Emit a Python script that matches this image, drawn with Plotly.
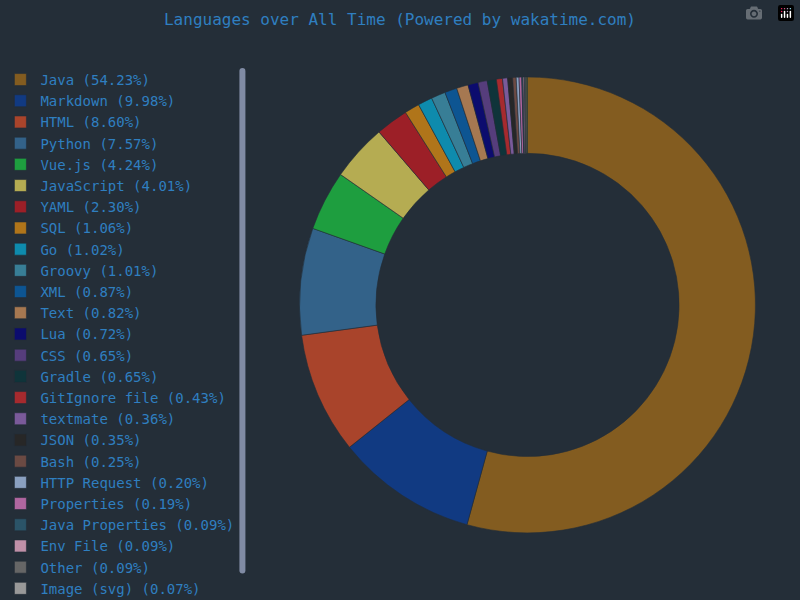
import plotly.graph_objects as go

languages = ["Java","Markdown","HTML","Python","Vue.js","JavaScript","YAML","SQL","Go","Groovy","XML","Text","Lua","CSS","Gradle","GitIgnore file","textmate","JSON","Bash","HTTP Request","Properties","Java Properties","Env File","Other","Image (svg)","Shell Script"]
percents = [54.23,9.98,8.60,7.57,4.24,4.01,2.30,1.06,1.02,1.01,0.87,0.82,0.72,0.65,0.65,0.43,0.36,0.35,0.25,0.20,0.19,0.09,0.09,0.09,0.07,0.06]
colors = ["#835c20","#113a82","#a9442b","#336289","#1e9e3f","#b5ac52","#9c1f27","#b0751a","#0e8bad","#387e96","#0d5592","#a67851","#0c0c6e","#563d7c","#0f343a","#a62a2e","#7a5a9a","#272727","#6b4a43","#8aa0c0","#b066a0","#2b5468","#c090a8","#666666","#999999","#9a9a2a"]

labels = [f"{l} ({p:.2f}%)" for l, p in zip(languages, percents)]

fig = go.Figure(go.Pie(
    labels=labels, values=percents, sort=False, direction="clockwise", rotation=0,
    hole=0.665, textinfo="none", marker=dict(colors=colors, line=dict(color="#242e38", width=0.6)),
    domain=dict(x=[0.3475, 0.96], y=[0.045, 0.862]),
))
fig.update_layout(
    width=800, height=600, paper_bgcolor="#242e38", plot_bgcolor="#242e38",
    margin=dict(l=0, r=0, t=0, b=0),
    font=dict(family="DejaVu Sans Mono", color="#2f7fc0"),
    title=dict(text="Languages over All Time (Powered by wakatime.com)", x=0.5, xanchor="center",
               y=0.967, yanchor="middle", font=dict(size=16, color="#2f7fc0")),
    legend=dict(x=-0.016, y=0.88, xanchor="left", yanchor="top", font=dict(size=14, color="#2f7fc0"),
                bgcolor="rgba(0,0,0,0)", itemwidth=30, tracegroupgap=0),
)
fig.write_html("out.html", post_script="document.body.style.margin='0';document.body.style.background='#242e38';document.body.style.overflow='hidden';")
